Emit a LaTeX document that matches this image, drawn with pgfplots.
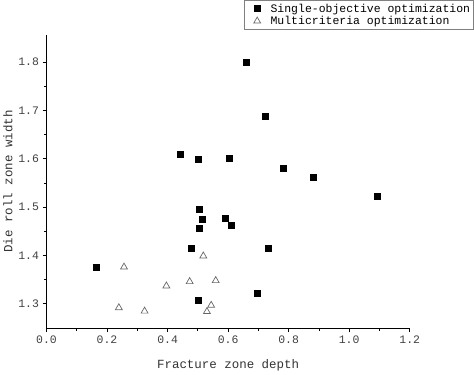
\documentclass[border=0pt]{standalone}
\usepackage{pgfplots}
\pgfplotsset{compat=1.18}
\usepackage{fontspec}
\setmainfont{Liberation Mono}
\begin{document}
\begin{tikzpicture}[x=1bp,y=1bp]
\pgfplotsset{mylegimg/.style={legend image code/.code={\path (0bp,0bp) (22bp,0bp); \draw[mark repeat=2,mark phase=2] plot coordinates {(2bp,0bp)(11bp,0bp)(20bp,0bp)};}}}
\begin{axis}[
  scale only axis,
  width=363bp, height=293bp,
  xmin=0, xmax=1.2, ymin=1.25, ymax=1.856,
  axis lines=left,
  axis line style={-, line width=0.9pt},
  xtick={0,0.2,...,1.2},
  ytick={1.3,1.4,...,1.8},
  minor x tick num=1, minor y tick num=1,
  tick align=outside,
  major tick length=4bp, minor tick length=2.5bp,
  tick style={line width=0.8pt, black},
  xticklabel style={/pgf/number format/fixed,/pgf/number format/fixed zerofill,/pgf/number format/precision=1},
  yticklabel style={/pgf/number format/fixed,/pgf/number format/fixed zerofill,/pgf/number format/precision=1},
  /pgf/number format/assume math mode=true,
  ticklabel style={font=\fontsize{11.5}{13}\selectfont, text=black!75},
  xlabel={Fracture zone depth},
  ylabel={Die roll zone width},
  label style={font=\fontsize{12.5}{14}\selectfont, text=black!80},
  xlabel style={yshift=-9bp},
  ylabel style={yshift=-1bp},
  legend style={at={(1.177,1.119)}, anchor=north east, draw=black!50, line width=0.8pt,
    font=\fontsize{11.5}{13}\selectfont, inner sep=1.5bp, row sep=-1.5bp, cells={anchor=west}},
  legend cell align=left,
]
\addplot[only marks, mylegimg, mark=square*, mark size=3bp, black] coordinates {
(0.660,1.800) (0.723,1.688) (0.443,1.610) (0.502,1.599) (0.605,1.601)
(0.783,1.580) (0.882,1.562) (1.091,1.523) (0.503,1.496) (0.516,1.476)
(0.591,1.478) (0.506,1.456) (0.611,1.463) (0.478,1.415) (0.732,1.415)
(0.696,1.322) (0.500,1.308) (0.164,1.376)
};
\addlegendentry{Single-objective optimization}
\addplot[only marks, mylegimg, mark=triangle, mark size=4bp, black!60, mark options={line width=0.7pt}] coordinates {
(0.256,1.376) (0.239,1.292) (0.324,1.285) (0.396,1.337) (0.473,1.346)
(0.559,1.348) (0.518,1.399) (0.544,1.297) (0.530,1.284)
};
\addlegendentry{Multicriteria optimization}
\end{axis}
\end{tikzpicture}
\end{document}
